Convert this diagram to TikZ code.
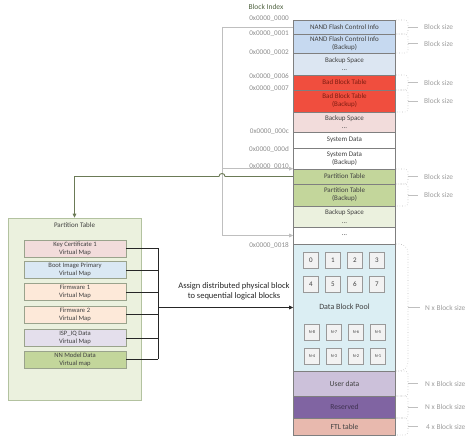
\documentclass[tikz,border=0pt]{standalone}
\usepackage{fontspec}
\setmainfont{Carlito}
\usetikzlibrary{arrows.meta}
\definecolor{colgray}{HTML}{7F7F7F}
\definecolor{txt}{HTML}{404040}
\definecolor{nandblue}{HTML}{C6D9F0}
\definecolor{backblue}{HTML}{DCE6F2}
\definecolor{badred}{HTML}{F04E3E}
\definecolor{badtxt}{HTML}{7F1D12}
\definecolor{pinklight}{HTML}{F2DCDB}
\definecolor{ptgreen}{HTML}{C3D69B}
\definecolor{greenlight}{HTML}{EBF1DE}
\definecolor{poolcyan}{HTML}{DBEEF3}
\definecolor{userlav}{HTML}{CCC1DA}
\definecolor{resvpurple}{HTML}{8064A2}
\definecolor{resvtxt}{HTML}{3F3151}
\definecolor{ftlpink}{HTML}{E8B9AE}
\definecolor{peach}{HTML}{FDE9D9}
\definecolor{lav}{HTML}{E4DFEC}
\definecolor{lblue}{HTML}{DAE8F3}
\definecolor{addrgray}{HTML}{8C8C8C}
\definecolor{lightline}{HTML}{BFBFBF}
\definecolor{olive}{HTML}{6B7A56}
\definecolor{ptborder}{HTML}{B3C2A0}
\definecolor{vborder}{HTML}{9AA38C}
\definecolor{idxgreen}{HTML}{4F6240}
\newcommand{\colfont}{\fontsize{7}{8.2}\selectfont}
\newcommand{\bigcolfont}{\fontsize{7.6}{8.6}\selectfont}
\newcommand{\smfont}{\fontsize{6.6}{7.6}\selectfont}
\begin{document}
\begin{tikzpicture}[x=1pt,y=-1pt,
  rowbox/.style={draw=colgray, line width=0.6pt, minimum width=102pt, inner sep=0pt, align=center, font=\colfont, text=txt},
  addr/.style={anchor=east, font=\fontsize{7.2}{8}\selectfont, text=addrgray, inner sep=0pt},
  bsize/.style={anchor=west, font=\fontsize{7.4}{8}\selectfont, text=addrgray!85, inner sep=0pt},
  brk/.style={draw=lightline, dotted, line width=0.6pt},
  tick/.style={draw=lightline, line width=0.5pt},
  sq/.style={draw=colgray!80, fill=black!5, line width=0.6pt, minimum width=15pt, minimum height=16pt, inner sep=0pt, font=\colfont, text=txt},
  sqn/.style={sq, font=\fontsize{4.4}{5}\selectfont},
  vbox/.style={draw=vborder, line width=0.6pt, minimum width=102pt, minimum height=17pt, inner sep=0pt, align=center, font=\smfont, text=txt},
  gline/.style={draw=lightline, line width=0.7pt},
  dline/.style={draw=black!85, line width=0.8pt},
  tip/.style={-{Triangle[length=4pt,width=3.6pt]}}
]
\useasboundingbox (0,0) rectangle (474,438);
% column rows
\node[rowbox, fill=nandblue, minimum height=14pt] (r1) at (344.5,27) {NAND Flash Control Info};
\node[rowbox, fill=nandblue, minimum height=19pt] (r2) at (344.5,43.5) {NAND Flash Control Info\\(Backup)};
\node[rowbox, fill=backblue, minimum height=22pt] (r3) at (344.5,64) {Backup Space\\...};
\node[rowbox, fill=badred, text=badtxt, minimum height=15pt] (r4) at (344.5,82.5) {Bad Block Table};
\node[rowbox, fill=badred, text=badtxt, minimum height=22pt] (r5) at (344.5,101) {Bad Block Table\\(Backup)};
\node[rowbox, fill=pinklight, minimum height=20pt] (r6) at (344.5,122) {Backup Space\\...};
\node[rowbox, fill=white, minimum height=16pt] (r7) at (344.5,140) {System Data};
\node[rowbox, fill=white, minimum height=21pt] (r8) at (344.5,158.5) {System Data\\(Backup)};
\node[rowbox, fill=ptgreen, minimum height=15pt] (r9) at (344.5,176.5) {Partition Table};
\node[rowbox, fill=ptgreen, minimum height=22pt] (r10) at (344.5,195) {Partition Table\\(Backup)};
\node[rowbox, fill=greenlight, minimum height=21pt] (r11) at (344.5,216.5) {Backup Space\\...};
\node[rowbox, fill=white, minimum height=17pt] (r12) at (344.5,235.5) {...};
\node[rowbox, fill=poolcyan, minimum height=127pt] (pool) at (344.5,307.5) {};
\node[rowbox, fill=userlav, font=\bigcolfont, minimum height=25pt] (r14) at (344.5,383.5) {User data};
\node[rowbox, fill=resvpurple, text=resvtxt, font=\bigcolfont, minimum height=22pt] (r15) at (344.5,407) {Reserved};
\node[rowbox, fill=ftlpink, font=\bigcolfont, minimum height=17pt] (r16) at (344.5,426.5) {FTL table};
% pool contents
\node[font=\fontsize{8}{9}\selectfont, text=txt] (pooltxt) at (344.5,307) {Data Block Pool};
\node[sq] (b0) at (311,260) {0};
\node[sq] (b1) at (333,260) {1};
\node[sq] (b2) at (355,260) {2};
\node[sq] (b3) at (377,260) {3};
\node[sq] (b4) at (311,284.5) {4};
\node[sq] (b5) at (333,284.5) {5};
\node[sq] (b6) at (355,284.5) {6};
\node[sq] (b7) at (377,284.5) {7};
\node[sqn] (n8) at (312,332) {N-8};
\node[sqn] (n7) at (334,332) {N-7};
\node[sqn] (n6) at (356,332) {N-6};
\node[sqn] (n5) at (378,332) {N-5};
\node[sqn] (n4) at (312,356) {N-4};
\node[sqn] (n3) at (334,356) {N-3};
\node[sqn] (n2) at (356,356) {N-2};
\node[sqn] (n1) at (378,356) {N-1};
% block index and addresses
\node[font=\fontsize{7.5}{8}\selectfont, text=idxgreen] (bi) at (266,7) {Block Index};
\node[addr] (a00) at (289,19) {0x0000\_0000};
\node[addr] (a01) at (289,34) {0x0000\_0001};
\node[addr] (a02) at (289,53) {0x0000\_0002};
\node[addr] (a06) at (289,76.5) {0x0000\_0006};
\node[addr] (a07) at (289,89) {0x0000\_0007};
\node[addr] (a0c) at (289,132) {0x0000\_000c};
\node[addr] (a0d) at (289,149) {0x0000\_000d};
\node[addr] (a10) at (289,167) {0x0000\_0010};
\node[addr] (a18) at (289,246) {0x0000\_0018};
% brackets
\foreach \t/\b in {20/34, 34/53, 75/90, 90/112, 169/184, 184/206, 371/396, 396/418, 418/435}{
  \draw[brk, rounded corners=3pt] (396,\t) -- (408,\t) -- (408,\b) -- (396,\b);
  \draw[tick] (408,{(\t+\b)/2}) -- (418,{(\t+\b)/2});
}
\draw[brk, rounded corners=9pt] (396,244) -- (408,244) -- (408,371) -- (396,371);
\draw[tick] (408,307.5) -- (420,307.5);
\node[bsize] (s1) at (424,27) {Block size};
\node[bsize] (s2) at (424,43.5) {Block size};
\node[bsize] (s4) at (424,82.5) {Block size};
\node[bsize] (s5) at (424,101) {Block size};
\node[bsize] (s9) at (424,176.5) {Block size};
\node[bsize] (s10) at (424,195) {Block size};
\node[bsize] (s13) at (425,307.5) {N x Block size};
\node[bsize] (s14) at (425,383.5) {N x Block size};
\node[bsize] (s15) at (425,407) {N x Block size};
\node[bsize] (s16) at (426,426.5) {4 x Block size};
% gray pointer lines
\coordinate (gv) at (222,27);
\draw[gline] (r1.west) -- (gv);
\draw[gline, tip] (gv) |- (r12.west);
\draw[gline, tip] (gv |- r9.north) -- (r9.north west);
% left partition table
\node[draw=ptborder, fill=greenlight, line width=0.7pt, minimum width=133pt, minimum height=182pt, inner sep=0pt] (ptbox) at (74.5,309) {};
\node[font=\fontsize{7}{8}\selectfont, text=txt] (pttitle) at (74.5,225) {Partition Table};
\node[vbox, fill=pinklight] (kc) at (75,248.5) {Key Certificate 1\\Virtual Map};
\node[vbox, fill=lblue] (bo) at (75,270) {Boot Image Primary\\Virtual Map};
\node[vbox, fill=peach] (f1) at (75,292) {Firmware 1\\Virtual Map};
\node[vbox, fill=peach] (f2) at (75,314.5) {Firmware 2\\Virtual Map};
\node[vbox, fill=lav] (isp) at (75,338) {ISP\_IQ Data\\Virtual Map};
\node[vbox, fill=ptgreen] (nn) at (75,359.5) {NN Model Data\\Virtual map};
% olive connector with hop
\draw[olive, line width=0.9pt, tip] (r9.west) -- (225,176.5) .. controls (225,172.5) and (219,172.5) .. (219,176.5) -| (ptbox.north);
% bus connectors
\coordinate (bus) at (158,0);
\foreach \n in {kc,bo,f1,f2,isp,nn}{
  \draw[dline] (\n.east) -- (\n.east -| bus);
}
\draw[dline] (kc.east -| bus) -- (nn.east -| bus);
\draw[dline, tip] (bus |- pool.west) -- (pool.west);
\node[font=\fontsize{8.5}{9.5}\selectfont, align=center, text=black!85] (lbl) at (234,291.5) {Assign distributed physical block\\to sequential logical blocks};
\end{tikzpicture}
\end{document}
